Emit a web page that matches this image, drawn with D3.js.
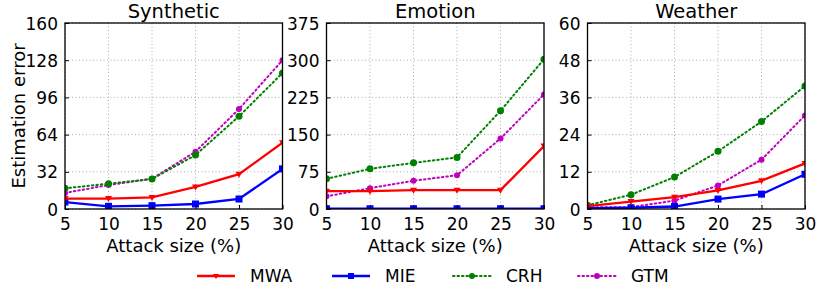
<!DOCTYPE html>
<html>
<head>
<meta charset="utf-8">
<script src="https://cdn.jsdelivr.net/npm/d3@7"></script>
<style>
  body { margin: 0; background: #fff; }
  text { font-family: "DejaVu Sans", sans-serif; fill: #000; }
</style>
</head>
<body>
<div id="chart"></div>
<script>
// attack sizes on the x axis
const attackSizes = [5, 10, 15, 20, 25, 30];

const methods = ["MWA", "MIE", "CRH", "GTM"];

// Synthetic
const synthMWA = [9, 9, 10, 19, 30, 57];
const synthMIE = [6, 2.3, 2.9, 4.3, 8.6, 34.5];
const synthCRH = [17.8, 21.8, 25.8, 46.4, 79.7, 117];
const synthGTM = [13.8, 20.6, 26, 49.3, 86, 128];

// Emotion
const emoMWA = [36, 36, 38, 38, 38, 127];
const emoMIE = [0.5, 0.5, 0.5, 0.5, 0.5, 0.5];
const emoCRH = [61, 81, 93, 104, 198, 302];
const emoGTM = [25.5, 42, 57, 68, 142, 231];

// Weather
const weathMWA = [0.9, 2.4, 3.8, 6, 9.1, 14.7];
const weathMIE = [0.3, 0.4, 0.8, 3.2, 4.8, 11.2];
const weathCRH = [1.2, 4.6, 10.3, 18.6, 28.2, 39.7];
const weathGTM = [0.6, 0.6, 2.7, 7.6, 15.9, 30.2];

const synthTicks = [0, 32, 64, 96, 128, 160];
const emoTicks = [0, 75, 150, 225, 300, 375];
const weathTicks = [0, 12, 24, 36, 48, 60];

const panels = [
  { title: "Synthetic", ticks: synthTicks, series: [synthMWA, synthMIE, synthCRH, synthGTM] },
  { title: "Emotion", ticks: emoTicks, series: [emoMWA, emoMIE, emoCRH, emoGTM] },
  { title: "Weather", ticks: weathTicks, series: [weathMWA, weathMIE, weathCRH, weathGTM] }
];

const width = 818, height = 285;
const plotTop = 23, plotBottom = 209, panelW = 217.5;
const lefts = [65, 326.5, 587.5];

const style = {
  MWA: { color: "#ff0000", dash: null, w: 2.3, marker: "tri" },
  MIE: { color: "#0000ff", dash: null, w: 2.3, marker: "sq" },
  CRH: { color: "#008000", dash: "1.5,3", w: 2, marker: "circ" },
  GTM: { color: "#bf00bf", dash: "1.5,3", w: 2, marker: "circ" }
};

const svg = d3.select("#chart")
  .append("svg")
  .attr("width", width)
  .attr("height", height);

function drawMarker(g, kind, x, y, color, size) {
  if (kind === "circ") {
    g.append("circle").attr("cx", x).attr("cy", y).attr("r", size).attr("fill", color);
  } else if (kind === "sq") {
    g.append("rect").attr("x", x - size).attr("y", y - size)
      .attr("width", size * 2).attr("height", size * 2).attr("fill", color);
  } else {
    g.append("path")
      .attr("d", `M${x - size},${y - size * 0.7}L${x + size},${y - size * 0.7}L${x},${y + size}Z`)
      .attr("fill", color);
  }
}

panels.forEach((p, i) => {
  const left = lefts[i];
  const x = d3.scaleLinear().domain([5, 30]).range([left, left + panelW]);
  const y = d3.scaleLinear().domain([p.ticks[0], p.ticks[p.ticks.length - 1]]).range([plotBottom, plotTop]);

  const g = svg.append("g");

  // grid
  g.selectAll(".gx").data(attackSizes).join("line")
    .attr("x1", d => x(d)).attr("x2", d => x(d))
    .attr("y1", plotTop).attr("y2", plotBottom)
    .attr("stroke", "#999").attr("stroke-width", 0.8).attr("stroke-dasharray", "1,2.5");
  g.selectAll(".gy").data(p.ticks).join("line")
    .attr("x1", left).attr("x2", left + panelW)
    .attr("y1", d => y(d)).attr("y2", d => y(d))
    .attr("stroke", "#999").attr("stroke-width", 0.8).attr("stroke-dasharray", "1,2.5");

  // clip
  svg.append("clipPath").attr("id", "clip" + i)
    .append("rect").attr("x", left).attr("y", plotTop).attr("width", panelW).attr("height", plotBottom - plotTop);

  const plot = g.append("g").attr("clip-path", `url(#clip${i})`);

  // draw back to front: GTM, CRH, MIE, MWA
  [3, 2, 1, 0].forEach(k => {
    const m = methods[k], s = style[m];
    const line = d3.line().x((d, j) => x(attackSizes[j])).y(d => y(d));
    plot.append("path")
      .datum(p.series[k])
      .attr("d", line)
      .attr("fill", "none")
      .attr("stroke", s.color)
      .attr("stroke-width", s.w)
      .attr("stroke-dasharray", s.dash)
      .attr("stroke-linecap", s.dash ? "round" : "butt");
    p.series[k].forEach((v, j) => {
      const sz = s.marker === "sq" ? 3.5 : s.marker === "tri" ? 3.5 : (m === "CRH" ? 3.5 : 3);
      drawMarker(plot, s.marker, x(attackSizes[j]), y(v), s.color, sz);
    });
  });

  // axes
  const xAxis = g.append("g")
    .attr("transform", `translate(0,${plotBottom})`)
    .call(d3.axisBottom(x).tickValues(attackSizes).tickSize(-4).tickPadding(8).tickSizeOuter(0));
  xAxis.select(".domain").remove();
  xAxis.selectAll("text").style("font-size", "17px").attr("dy", "0.75em");

  const yAxis = g.append("g")
    .attr("transform", `translate(${left},0)`)
    .call(d3.axisLeft(y).tickValues(p.ticks).tickSize(-4).tickPadding(7).tickSizeOuter(0));
  yAxis.select(".domain").remove();
  yAxis.selectAll("text").style("font-size", "17px").attr("dy", "0.36em");

  g.append("rect")
    .attr("x", left).attr("y", plotTop)
    .attr("width", panelW).attr("height", plotBottom - plotTop)
    .attr("fill", "none").attr("stroke", "#000").attr("stroke-width", 1.3);

  g.append("text")
    .attr("x", left + panelW / 2).attr("y", 18)
    .attr("text-anchor", "middle")
    .style("font-size", "19.5px")
    .text(p.title);

  g.append("text")
    .attr("x", left + panelW / 2).attr("y", 252)
    .attr("text-anchor", "middle")
    .style("font-size", "18px")
    .text("Attack size (%)");
});

svg.append("text")
  .attr("transform", `translate(19,${(plotTop + plotBottom) / 2}) rotate(-90)`)
  .attr("text-anchor", "middle")
  .attr("dy", "0.35em")
  .style("font-size", "18px")
  .text("Estimation error");

// legend
const legendX = [197, 332, 453, 578];
const legend = svg.append("g");
methods.forEach((m, k) => {
  const s = style[m];
  const lx = legendX[k], ly = 276;
  legend.append("line")
    .attr("x1", lx).attr("x2", lx + 38)
    .attr("y1", ly).attr("y2", ly)
    .attr("stroke", s.color).attr("stroke-width", s.w)
    .attr("stroke-dasharray", s.dash)
    .attr("stroke-linecap", s.dash ? "round" : "butt");
  drawMarker(legend, s.marker, lx + 19, ly, s.color, 3);
  legend.append("text")
    .attr("x", lx + 53).attr("y", ly)
    .attr("dy", "0.36em")
    .style("font-size", "17px")
    .text(m);
});
</script>
</body>
</html>
